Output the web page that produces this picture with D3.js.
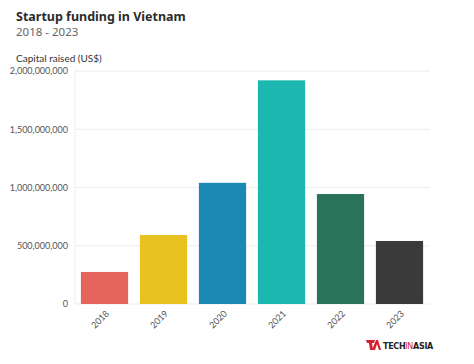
<!DOCTYPE html>
<html>
<head>
<meta charset="utf-8">
<script src="https://cdn.jsdelivr.net/npm/d3@7"></script>
<style>
  body { margin: 0; background: #fff; }
  svg { display: block; }
</style>
</head>
<body>
<div id="chart"></div>
<script>
var years = ["2018", "2019", "2020", "2021", "2022", "2023"];
var capital = [275000000, 592000000, 1040000000, 1920000000, 944000000, 541000000];
var colors = ["#e4655c", "#e8c320", "#1c87b3", "#1cb7ae", "#29735a", "#3a3a3a"];
var yTicks = [0, 500000000, 1000000000, 1500000000, 2000000000];

var width = 474;
var height = 364;

var svg = d3.select("#chart")
    .append("svg")
    .attr("width", width)
    .attr("height", height);

// titles
svg.append("text")
    .attr("x", 16).attr("y", 21)
    .style("font-family", "'Noto Sans', sans-serif")
    .style("font-weight", "700")
    .style("font-size", "12.5px")
    .attr("fill", "#2b2b2b")
    .text("Startup funding in Vietnam");

svg.append("text")
    .attr("x", 16).attr("y", 36)
    .style("font-family", "'Noto Sans', sans-serif")
    .style("font-size", "11.5px")
    .attr("fill", "#666")
    .text("2018 - 2023");

svg.append("text")
    .attr("x", 16).attr("y", 62)
    .style("font-family", "Lato, sans-serif")
    .style("font-size", "10px")
    .attr("fill", "#333")
    .text("Capital raised (US$)");

var x = d3.scaleBand()
    .domain(years)
    .range([75, 429])
    .paddingInner(0.2)
    .paddingOuter(0.1);

var y = d3.scaleLinear()
    .domain([0, 2000000000])
    .range([304, 71]);

// gridlines
svg.append("g")
    .selectAll("line")
    .data(yTicks)
    .join("line")
    .attr("x1", 75)
    .attr("x2", 430)
    .attr("y1", d => y(d))
    .attr("y2", d => y(d))
    .attr("stroke", "#ececec")
    .attr("stroke-width", 1);

svg.append("line")
    .attr("x1", 75).attr("x2", 75)
    .attr("y1", 71).attr("y2", 304)
    .attr("stroke", "#ececec");

// y axis
var yAxis = svg.append("g")
    .attr("transform", "translate(75,0)")
    .call(d3.axisLeft(y).tickValues(yTicks).tickFormat(d3.format(",")).tickSize(0).tickPadding(7));
yAxis.select(".domain").remove();
yAxis.selectAll("text")
    .style("font-family", "Lato, sans-serif")
    .style("font-size", "9px")
    .attr("fill", "#555");

// bars
svg.append("g")
    .selectAll("rect")
    .data(years)
    .join("rect")
    .attr("x", d => x(d))
    .attr("y", (d, i) => y(capital[i]))
    .attr("width", x.bandwidth())
    .attr("height", (d, i) => y(0) - y(capital[i]))
    .attr("fill", (d, i) => colors[i]);

// x axis
var xAxis = svg.append("g")
    .attr("transform", "translate(0,304)")
    .call(d3.axisBottom(x).tickSize(0).tickPadding(0));
xAxis.select(".domain").remove();
xAxis.selectAll("text")
    .style("font-family", "Lato, sans-serif")
    .style("font-size", "9px")
    .attr("fill", "#555")
    .attr("text-anchor", "end")
    .attr("y", 0)
    .attr("dy", "0.35em")
    .attr("transform", "translate(3,8) rotate(-45)");

// logo
var logo = svg.append("g").attr("transform", "translate(366,340)");
logo.append("path")
    .attr("d", "M0,0 L9,0 L8,3 L6,3 L7,10 L4,10 L3,3 L1,3 Z")
    .attr("fill", "#d61f2c");
logo.append("path")
    .attr("d", "M6,10 L10,0 L12,0 L15,10 L13,10 L11,4 L9,10 Z")
    .attr("fill", "#d61f2c");
var lt = logo.append("text")
    .attr("x", 17).attr("y", 9)
    .style("font-family", "'DejaVu Sans', sans-serif")
    .style("font-size", "8px")
    .style("font-weight", "700")
    .style("letter-spacing", "-0.3px")
    .attr("fill", "#222");
lt.append("tspan").text("TECH");
lt.append("tspan").attr("fill", "#d61f2c").style("font-weight", "400").text("IN");
lt.append("tspan").text("ASIA");
</script>
</body>
</html>
